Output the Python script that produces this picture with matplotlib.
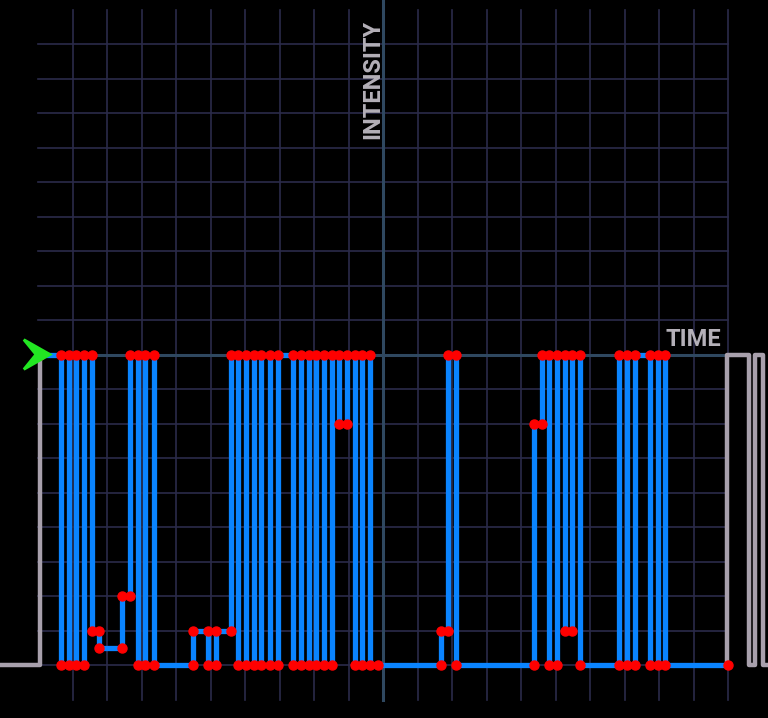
import matplotlib.pyplot as plt
import numpy as np

# step signal (time in grid units, intensity levels)
step_x = [-9.94, -9.33, -9.33, -9.11, -9.11, -8.89, -8.89, -8.67, -8.67, -8.44, -8.44, -8.23, -8.23,
          -7.57, -7.57, -7.33, -7.33, -7.11, -7.11, -6.89, -6.89, -6.63, -6.63, -5.51, -5.51, -5.07,
          -5.07, -4.84, -4.84, -4.41, -4.41, -4.19, -4.19, -3.97, -3.97, -3.75, -3.75, -3.53, -3.53,
          -3.28, -3.28, -3.05, -3.05, -2.60, -2.60, -2.38, -2.38, -2.15, -2.15, -1.93, -1.93, -1.71,
          -1.71, -1.49, -1.49, -1.27, -1.27, -1.04, -1.04, -0.82, -0.82, -0.60, -0.60, -0.38, -0.38,
          -0.15, 1.67, 1.67, 1.89, 1.89, 2.12, 2.12, 4.38, 4.38, 4.60, 4.60, 4.82, 4.82, 5.04, 5.04,
          5.27, 5.27, 5.49, 5.49, 5.71, 5.71, 6.85, 6.85, 7.07, 7.07, 7.30, 7.30, 7.74, 7.74, 7.97,
          7.97, 8.18, 8.18, 10.0]
step_y = [9, 9, 0, 0, 9, 9, 0, 0, 9, 9, 1, 1, 0.5,
          0.5, 2, 2, 9, 9, 0, 0, 9, 9, 0, 0, 1, 1,
          0, 0, 1, 1, 9, 9, 0, 0, 9, 9, 0, 0, 9,
          9, 0, 0, 9, 9, 0, 0, 9, 9, 0, 0, 9, 9,
          0, 0, 9, 9, 7, 7, 9, 9, 0, 0, 9, 9, 0,
          0, 0, 1, 1, 9, 9, 0, 0, 7, 7, 9, 9, 0, 0, 9,
          9, 1, 1, 9, 9, 0, 0, 9, 9, 0, 0, 9, 9, 0, 0,
          9, 9, 0, 0]

# grey outer signal
grey_left_x = [-11.2, -9.94, -9.94]
grey_left_y = [0, 0, 9]
grey_right_x = [9.98, 9.98, 10.62, 10.62, 10.78, 10.78, 11.02, 11.02, 11.3]
grey_right_y = [0, 9, 9, 0, 0, 9, 9, 0, 0]

fig = plt.figure(figsize=(7.68, 7.18), dpi=100, facecolor='black')
ax = fig.add_axes([0, 0, 1, 1])
ax.set_facecolor('black')
ax.set_xlim(-383 / 34.5, 385 / 34.5)
ax.set_ylim(-53 / 34.5, 665 / 34.5)
ax.axis('off')

gridc = '#2b2b4a'
for gx in range(-9, 11):
    if gx != 0:
        ax.plot([gx, gx], [-1, 19], color=gridc, lw=1.2, zorder=1)
for gy in range(0, 19):
    if gy != 9:
        ax.plot([-10, 10], [gy, gy], color=gridc, lw=1.2, zorder=1)

axc = '#2f4860'
ax.plot([0, 0], [-1, 19.3], color=axc, lw=2.2, zorder=2)
ax.plot([-10, 10], [9, 9], color=axc, lw=2.2, zorder=2)

ax.text(-0.3, 18.7, 'INTENSITY', rotation=90, ha='center', va='top', family='Roboto',
        color='#b4b0b8', fontsize=17, fontweight='bold', zorder=5)
ax.text(9.8, 9.1, 'TIME', ha='right', va='bottom', family='Roboto',
        color='#b4b0b8', fontsize=17, fontweight='bold', zorder=5)

ax.plot(grey_left_x, grey_left_y, color='#a8a0ac', lw=3.2, zorder=3)
ax.plot(grey_right_x, grey_right_y, color='#a8a0ac', lw=3.2, zorder=3)

ax.plot(step_x, step_y, color='#0a84ff', lw=3.8, zorder=4)
ax.plot(step_x, step_y, 'o', color='#ff0000', ms=6.5, zorder=6)

# green start chevron
ax.fill([-9.65, -10.41, -10.06, -10.41], [9.0, 9.43, 9.0, 8.57], color='#22e622', lw=2,
        ec='#22e622', zorder=7)

fig.savefig('out.png', dpi=100, facecolor='black')
